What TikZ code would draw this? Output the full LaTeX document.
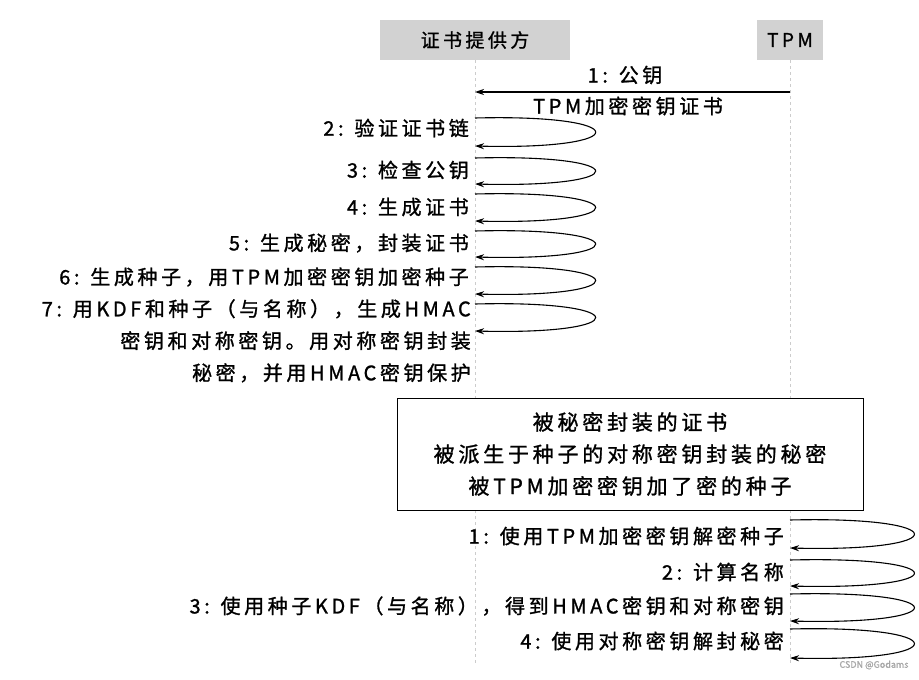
\documentclass[tikz,border=0pt]{standalone}
\usepackage{fontspec}
\setmainfont{Noto Sans CJK SC}[LetterSpace=18,FakeBold=1.2]
\usetikzlibrary{arrows.meta}
\begin{document}
\begin{tikzpicture}[x=1pt,y=-1pt,
  hdr/.style={fill=gray!35,minimum height=40pt,inner sep=4pt,font=\fontsize{19}{21}\selectfont},
  lbl/.style={font=\fontsize{20}{32}\selectfont,inner sep=1pt},
  msg/.style={-{Stealth[length=9pt,width=6pt]},line width=1.1pt},
  life/.style={gray!40,dashed,line width=0.6pt}]
\useasboundingbox (0,0) rectangle (919,680);
\node[hdr,minimum width=190pt] (cp) at (475,40) {证书提供方};
\node[hdr,minimum width=66pt] (tpm) at (790,40) {TPM};
\coordinate (cpb) at (475,665); \coordinate (tpmb) at (790,665);
\draw[life] (cp.south) -- (cpb);
\draw[life] (tpm.south) -- (tpmb);
% message 1
\coordinate (a1) at (790,92); \coordinate (b1) at (475,92);
\draw[msg] (a1) -- (b1);
\node[lbl] (m1a) at (625,75) {1: 公钥};
\node[lbl] (m1b) at (628,106) {TPM加密密钥证书};
% self loops at provider
\foreach \i/\ya/\yb in {2/118/146,3/158/184,4/194/221,5/231/257,6/267/294,7/304/331}{
  \coordinate (s\i) at (475,\ya); \coordinate (e\i) at (475,\yb);
  \draw[msg] (s\i) .. controls (635,\ya-4) and (635,\yb+4) .. (e\i);
}
\node[lbl,anchor=east] (l2) at (470,128) {2: 验证证书链};
\node[lbl,anchor=east] (l3) at (470,170) {3: 检查公钥};
\node[lbl,anchor=east] (l4) at (470,207) {4: 生成证书};
\node[lbl,anchor=east] (l5) at (470,243) {5: 生成秘密，封装证书};
\node[lbl,anchor=east] (l6) at (470,277) {6: 生成种子，用TPM加密密钥加密种子};
\node[lbl,anchor=north east,align=right] (l7) at (472,298) {7: 用KDF和种子（与名称），生成HMAC\\密钥和对称密钥。用对称密钥封装\\秘密，并用HMAC密钥保护};
% box
\node[draw,line width=0.8pt,fill=white,minimum width=466pt,minimum height=112pt,align=center,font=\fontsize{21}{32}\selectfont,inner sep=4pt] (box) at (630,454)
 {被秘密封装的证书\\被派生于种子的对称密钥封装的秘密\\被TPM加密密钥加了密的种子};
% self loops at TPM
\foreach \i/\ya/\yb in {1/520/548,2/560/586,3/594/621,4/629/658}{
  \coordinate (t\i) at (790,\ya); \coordinate (u\i) at (790,\yb);
  \draw[msg] (t\i) .. controls (955,\ya-4) and (955,\yb+4) .. (u\i);
}
\node[lbl,anchor=east] (k1) at (785,536) {1: 使用TPM加密密钥解密种子};
\node[lbl,anchor=east] (k2) at (785,572) {2: 计算名称};
\node[lbl,anchor=east] (k3) at (785,606) {3: 使用种子KDF（与名称），得到HMAC密钥和对称密钥};
\node[lbl,anchor=east] (k4) at (785,641) {4: 使用对称密钥解封秘密};
\node[font=\fontsize{9}{10}\selectfont\addfontfeatures{LetterSpace=0},text=gray!70,anchor=east] (wm) at (912,665) {CSDN @Godams};
\end{tikzpicture}
\end{document}
